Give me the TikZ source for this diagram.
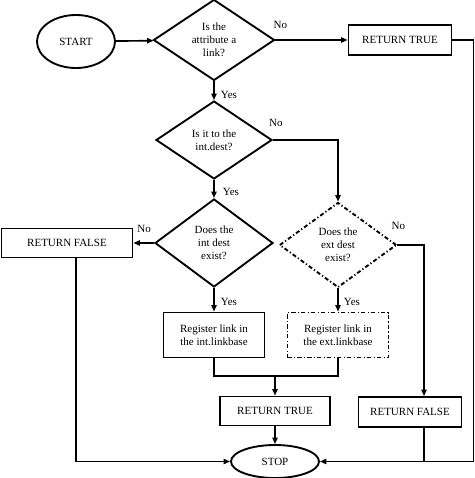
\documentclass[tikz,border=0pt]{standalone}
\usepackage{fontspec}
\setmainfont{Liberation Serif}
\usetikzlibrary{shapes.geometric, arrows.meta, positioning}
\tikzstyle{terminal} = [ellipse, draw=black, line width=1.6pt, inner sep=1pt, font=\fontsize{9.4}{11}\selectfont]
\tikzstyle{decision} = [diamond, draw=black, line width=1.6pt, inner sep=0pt, align=center, font=\fontsize{9.4}{11}\selectfont]
\tikzstyle{process} = [rectangle, draw=black, line width=1.6pt, inner sep=1pt, align=center, font=\fontsize{9.4}{11}\selectfont]
\tikzstyle{dashdot} = [dash pattern=on 3.5pt off 2pt on 1pt off 2pt]
\tikzstyle{arrow} = [line width=1.4pt, -{Triangle[length=5.5pt,width=4.5pt]}]
\tikzstyle{line} = [line width=1.4pt]
\tikzstyle{lbl} = [inner sep=0pt, font=\fontsize{9.4}{11}\selectfont]

\begin{document}
\begin{tikzpicture}[x=0.03cm, y=-0.03cm]
\useasboundingbox (0,0) rectangle (474,478);

% Nodes
\node (start) [terminal, minimum width=2.34cm, minimum height=1.59cm] at (76,41.5) {START};
\node (attr) [decision, minimum width=3.63cm, minimum height=2.43cm] at (214,40) {Is the\\attribute a\\link?};
\node (rtrue1) [process, minimum width=3.09cm, minimum height=0.9cm] at (400,40) {RETURN TRUE};
\node (intdest) [decision, minimum width=3.48cm, minimum height=2.34cm] at (214,140) {Is it to the\\int.dest?};
\node (intexist) [decision, minimum width=3.54cm, minimum height=2.64cm] at (214,243) {Does the\\int dest\\exist?};
\node (extexist) [decision, dashdot, minimum width=3.51cm, minimum height=2.55cm] at (338,245) {Does the\\ext dest\\exist?};
\node (rfalse1) [process, minimum width=3.93cm, minimum height=0.87cm] at (67,243) {RETURN FALSE};
\node (regint) [process, minimum width=3.03cm, minimum height=1.35cm] at (214,335) {Register link in\\the int.linkbase};
\node (regext) [process, dashdot, minimum width=3.03cm, minimum height=1.35cm] at (338,335) {Register link in\\the ext.linkbase};
\node (rtrue2) [process, minimum width=3.3cm, minimum height=0.87cm] at (275,411) {RETURN TRUE};
\node (rfalse2) [process, minimum width=3.09cm, minimum height=0.9cm] at (410,412) {RETURN FALSE};
\node (stop) [terminal, minimum width=2.64cm, minimum height=0.99cm] at (275,461.5) {STOP};
\coordinate (join) at (275,376);
\coordinate (fdown) at ([xshift=0.42cm]rfalse2.south);

% Arrows
\draw [arrow] (start) -- (attr);
\draw [arrow] (attr.east) -- node[lbl, at start, xshift=0.15cm, yshift=0.45cm] {No} (rtrue1);
\draw [arrow] (attr) -- node[lbl, pos=0.7, xshift=0.45cm] {Yes} (intdest);
\draw [arrow] (intdest.east) -| node[lbl, at start, xshift=0.09cm, yshift=0.51cm] {No} (extexist.north);
\draw [arrow] (intdest) -- node[lbl, pos=0.65, xshift=0.51cm] {Yes} (intexist);
\draw [arrow] (intexist.west) -- node[lbl, at start, xshift=-0.3cm, yshift=0.42cm] {No} (rfalse1);
\draw [arrow] (intexist) -- node[lbl, pos=0.58, xshift=0.45cm] {Yes} (regint);
\draw [arrow] (extexist.east) -| node[lbl, at start, xshift=0.03cm, yshift=0.57cm] {No} ([xshift=0.42cm]rfalse2.north);
\draw [arrow] (extexist) -- node[lbl, pos=0.58, xshift=0.42cm] {Yes} (regext);
\draw [line] (regint.south) |- (join) -| (regext.south);
\draw [arrow] (join) -- (rtrue2);
\draw [arrow] (rtrue2) -- (stop);
\draw [arrow] ([xshift=0.27cm]rfalse1.south) |- (stop.west);
\draw [arrow] (rtrue1.east) -- ++(21,0) |- (stop.east);
\draw [line] (fdown) -- (fdown |- stop.east);

\end{tikzpicture}
\end{document}
